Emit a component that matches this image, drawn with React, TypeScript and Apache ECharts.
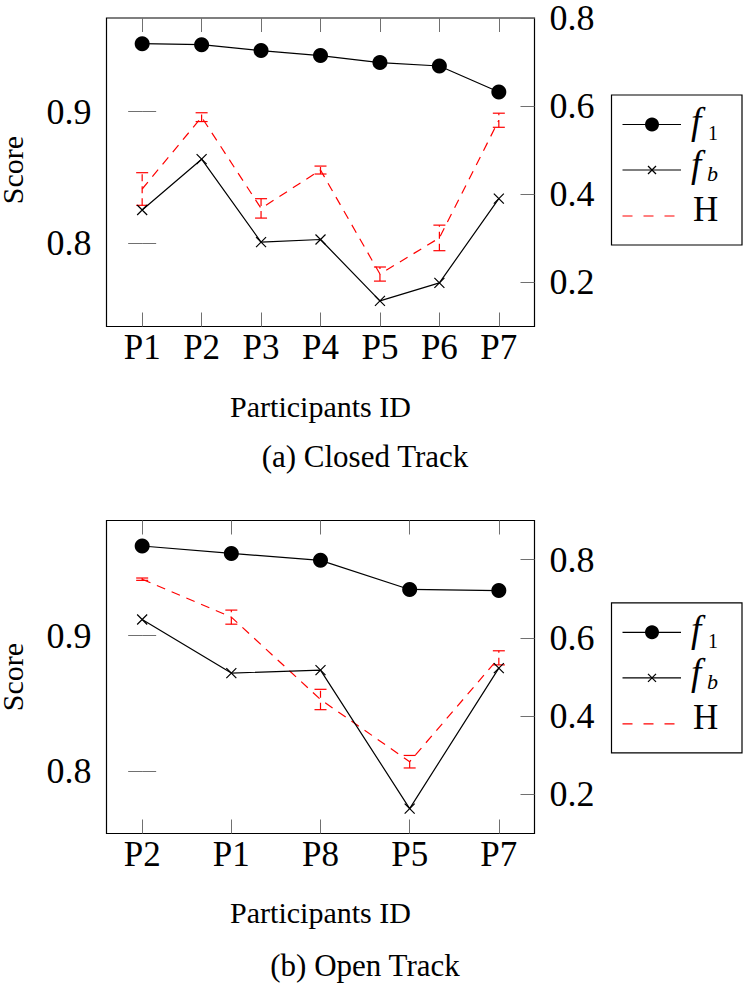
import React, { useEffect, useRef } from "react";
import * as echarts from "echarts";

// ---- data: (a) Closed Track ----
const closedCats = ["P1", "P2", "P3", "P4", "P5", "P6", "P7"];
const closedF1 = [0.9515, 0.9508, 0.9463, 0.9425, 0.9372, 0.9346, 0.9149];
const closedFb = [0.8254, 0.8639, 0.801, 0.803, 0.7564, 0.7701, 0.834];
const closedH = [0.412, 0.575, 0.368, 0.455, 0.219, 0.301, 0.568];
const closedHErr = [0.037, 0.01, 0.022, 0.009, 0.016, 0.029, 0.016];

// ---- data: (b) Open Track ----
const openCats = ["P2", "P1", "P8", "P5", "P7"];
const openF1 = [0.9662, 0.9607, 0.9556, 0.9341, 0.9333];
const openFb = [0.9119, 0.8724, 0.8746, 0.7724, 0.8761];
const openH = [0.75, 0.653, 0.4425, 0.2835, 0.549];
const openHErr = [0.003, 0.018, 0.026, 0.016, 0.018];

// ---- tick labels ----
const scoreTicks = [0.8, 0.9];
const hTicks = [0.2, 0.4, 0.6, 0.8];

const SERIF = "Liberation Serif";
const RED = "#ff0000";
const TICK_COLOR = "#707070";
const DASH = [9, 7];

type Panel = {
  g: number;
  top: number;
  height: number;
  cats: string[];
  f1: number[];
  fb: number[];
  h: number[];
  herr: number[];
  scoreRange: [number, number];
  hRange: [number, number];
  pad: number;
};

function buildPanel(p: Panel) {
  const idx = p.cats.map((_, i) => i);
  const grid = {
    left: 106.5,
    top: p.top,
    width: 428,
    height: p.height,
    show: true,
    borderColor: "#000",
    borderWidth: 1.2,
    backgroundColor: "transparent",
  };
  const tick = (vals: number[]) => ({
    show: true,
    inside: true,
    length: 14,
    customValues: vals,
    lineStyle: { color: TICK_COLOR, width: 1 },
  });
  const xBase = {
    type: "value",
    gridIndex: p.g,
    min: -p.pad,
    max: p.cats.length - 1 + p.pad,
    axisLine: { show: false },
    splitLine: { show: false },
    axisTick: tick(idx),
  };
  const xAxes = [
    {
      ...xBase,
      position: "bottom",
      axisLabel: {
        show: true,
        customValues: idx,
        margin: 8,
        formatter: (v: number) => p.cats[Math.round(v)] ?? "",
        fontFamily: SERIF,
        fontSize: 35,
        lineHeight: 26,
        color: "#000",
      },
    },
    { ...xBase, position: "top", axisLabel: { show: false } },
  ];
  const yBase = {
    type: "value",
    gridIndex: p.g,
    axisLine: { show: false },
    splitLine: { show: false },
  };
  const yLabel = {
    show: true,
    margin: 15,
    formatter: (v: number) => v.toFixed(1),
    fontFamily: SERIF,
    fontSize: 36,
    lineHeight: 26,
    color: "#000",
  };
  const yAxes = [
    {
      ...yBase,
      position: "left",
      min: p.scoreRange[0],
      max: p.scoreRange[1],
      axisTick: tick(scoreTicks),
      axisLabel: { ...yLabel, customValues: scoreTicks },
    },
    {
      ...yBase,
      position: "right",
      min: p.scoreRange[0],
      max: p.scoreRange[1],
      axisTick: tick(scoreTicks),
      axisLabel: { show: false },
    },
    {
      ...yBase,
      position: "right",
      min: p.hRange[0],
      max: p.hRange[1],
      axisTick: tick(hTicks),
      axisLabel: { ...yLabel, customValues: hTicks },
    },
  ];
  const xi = p.g * 2;
  const yi = p.g * 3;
  const series: any[] = [
    {
      name: "H",
      type: "line",
      xAxisIndex: xi,
      yAxisIndex: yi + 2,
      data: p.h.map((v, i) => [i, v]),
      symbol: "none",
      lineStyle: { color: RED, width: 1.2, type: DASH },
      z: 2,
    },
    {
      name: "H error",
      type: "custom",
      xAxisIndex: xi,
      yAxisIndex: yi + 2,
      data: p.h.map((v, i) => [i, v - p.herr[i], v + p.herr[i]]),
      renderItem: (_params: any, api: any) => {
        const x = api.value(0);
        const lo = api.coord([x, api.value(1)]);
        const hi = api.coord([x, api.value(2)]);
        const w = 6;
        const st = { stroke: RED, lineWidth: 1.2 };
        return {
          type: "group",
          children: [
            {
              type: "line",
              shape: { x1: lo[0], y1: lo[1], x2: hi[0], y2: hi[1] },
              style: { ...st, lineDash: [7, 5] },
            },
            { type: "line", shape: { x1: lo[0] - w, y1: lo[1], x2: lo[0] + w, y2: lo[1] }, style: st },
            { type: "line", shape: { x1: hi[0] - w, y1: hi[1], x2: hi[0] + w, y2: hi[1] }, style: st },
          ],
        };
      },
      z: 2,
    },
    {
      name: "fb",
      type: "line",
      xAxisIndex: xi,
      yAxisIndex: yi,
      data: p.fb.map((v, i) => [i, v]),
      symbol: "path://M0,0L10,10M10,0L0,10",
      symbolSize: 10,
      itemStyle: { color: "transparent", borderColor: "#000", borderWidth: 1.2 },
      lineStyle: { color: "#000", width: 1.2 },
      z: 3,
    },
    {
      name: "f1",
      type: "line",
      xAxisIndex: xi,
      yAxisIndex: yi,
      data: p.f1.map((v, i) => [i, v]),
      symbol: "circle",
      symbolSize: 15,
      itemStyle: { color: "#000" },
      lineStyle: { color: "#000", width: 1.2 },
      z: 4,
    },
  ];
  return { grid, xAxes, yAxes, series };
}

function textEl(text: string, x: number, baseline: number, fs: number, opts: any = {}) {
  // SVG text is placed with central baseline; central ~ 0.3375em above alphabetic
  return {
    type: "text",
    x,
    y: baseline - 0.3375 * fs,
    rotation: opts.rotation ?? 0,
    style: {
      text,
      fontFamily: SERIF,
      fontSize: fs,
      lineHeight: opts.lineHeight ?? Math.round(fs * 0.8),
      fontStyle: opts.italic ? "italic" : "normal",
      fill: "#000",
      align: opts.align ?? "left",
      verticalAlign: "middle",
    },
  };
}

function legendEls(dy: number) {
  const lx1 = 622.5;
  const lx2 = 681;
  const mx = 652;
  const y1 = 124.5 + dy;
  const y2 = 170 + dy;
  const y3 = 216 + dy;
  const blk = { stroke: "#000", lineWidth: 1.2 };
  return [
    {
      type: "rect",
      shape: { x: 611.5, y: 95 + dy, width: 130.5, height: 150 },
      style: { fill: "#fff", stroke: "#000", lineWidth: 1.2 },
    },
    { type: "line", shape: { x1: lx1, y1: y1, x2: lx2, y2: y1 }, style: blk },
    { type: "circle", shape: { cx: mx, cy: y1, r: 7 }, style: { fill: "#000" } },
    textEl("f", 691, 134 + dy, 37, { italic: true }),
    textEl("1", 708, 140 + dy, 20),
    { type: "line", shape: { x1: lx1, y1: y2, x2: lx2, y2: y2 }, style: blk },
    { type: "line", shape: { x1: mx - 4, y1: y2 - 4, x2: mx + 4, y2: y2 + 4 }, style: blk },
    { type: "line", shape: { x1: mx - 4, y1: y2 + 4, x2: mx + 4, y2: y2 - 4 }, style: blk },
    textEl("f", 691, 177 + dy, 37, { italic: true }),
    textEl("b", 707, 181 + dy, 22, { italic: true }),
    {
      type: "line",
      shape: { x1: lx1, y1: y3, x2: 675, y2: y3 },
      style: { stroke: RED, lineWidth: 1.2, lineDash: [10, 11] },
    },
    textEl("H", 693, 221.7 + dy, 35),
  ];
}

function titleEls(plotMid: number, pidBase: number, capBase: number, caption: string) {
  return [
    textEl("Score", 12.5, plotMid + 0.3375 * 30, 30, {
      rotation: Math.PI / 2,
      align: "center",
      lineHeight: 22,
    }),
    textEl("Participants ID", 320.5, pidBase, 30, { align: "center" }),
    textEl(caption, 365, capBase, 31, { align: "center" }),
  ];
}

export default function App() {
  const ref = useRef<HTMLDivElement>(null);
  useEffect(() => {
    if (!ref.current) return;
    const chart = echarts.init(ref.current, undefined, { renderer: "svg" });
    const a = buildPanel({
      g: 0,
      top: 13.5,
      height: 313,
      cats: closedCats,
      f1: closedF1,
      fb: closedFb,
      h: closedH,
      herr: closedHErr,
      scoreRange: [0.737, 0.971],
      hRange: [0.1, 0.8],
      pad: 0.6,
    });
    const b = buildPanel({
      g: 1,
      top: 520.5,
      height: 313,
      cats: openCats,
      f1: openF1,
      fb: openFb,
      h: openH,
      herr: openHErr,
      scoreRange: [0.754, 0.985],
      hRange: [0.1, 0.9],
      pad: 0.4,
    });
    chart.setOption({
      animation: false,
      backgroundColor: "#fff",
      grid: [a.grid, b.grid],
      xAxis: [...a.xAxes, ...b.xAxes],
      yAxis: [...a.yAxes, ...b.yAxes],
      series: [...a.series, ...b.series],
      graphic: [
        ...titleEls(170, 416.7, 467.3, "(a) Closed Track"),
        ...titleEls(677, 922.7, 975.7, "(b) Open Track"),
        ...legendEls(0),
        ...legendEls(507.8),
      ],
    });
    return () => chart.dispose();
  }, []);
  return (
    <div
      ref={ref}
      style={{ position: "absolute", left: 0, top: 0, width: 746, height: 986 }}
    />
  );
}
